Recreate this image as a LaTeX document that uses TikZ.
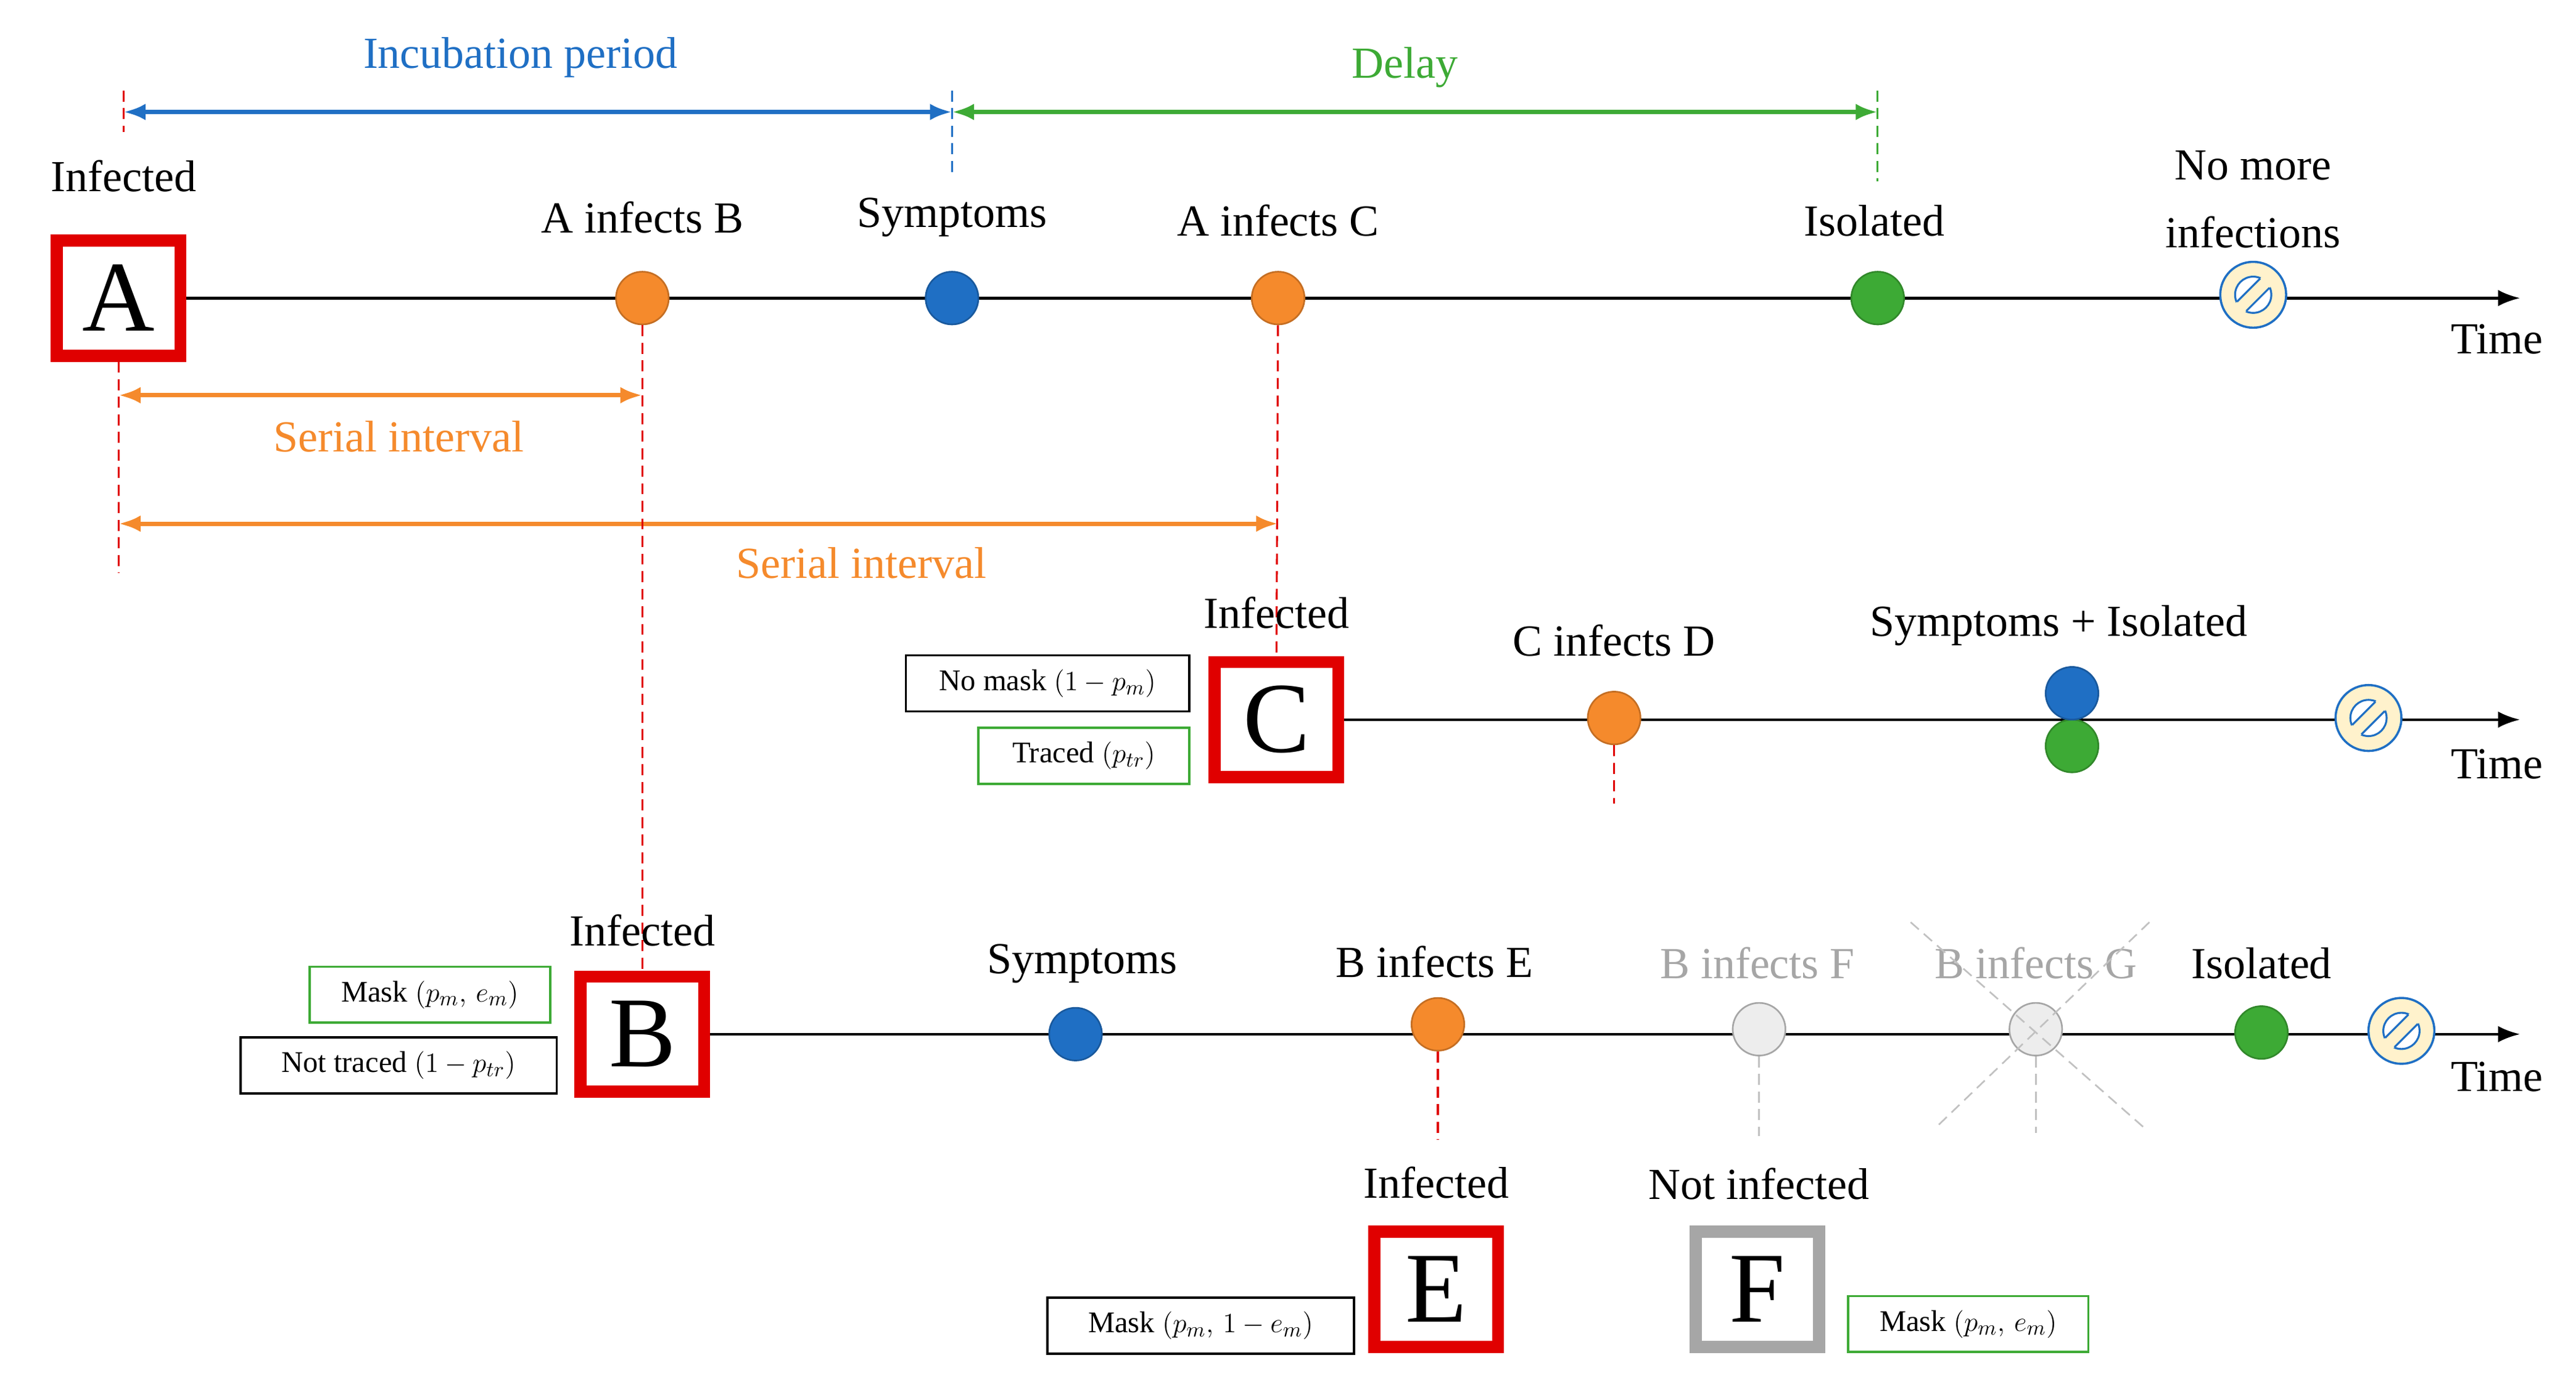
\documentclass[tikz,border=0pt]{standalone}
\usepackage{fontspec}
\setmainfont{Liberation Serif}
\usetikzlibrary{arrows.meta}
\definecolor{cor}{HTML}{F58A2C}
\definecolor{cbl}{HTML}{1F6FC4}
\definecolor{cgr}{HTML}{3DAA35}
\definecolor{cred}{HTML}{E00000}
\definecolor{cgy}{HTML}{A6A6A6}
\definecolor{cream}{HTML}{FFF2CC}
\begin{document}
\begin{tikzpicture}[x=0.03cm,y=-0.03cm,
  lab/.style={font=\fontsize{23}{27}\selectfont, align=center},
  big/.style={draw=cred, line width=2.2mm, minimum width=2.25cm, minimum height=2.1cm, inner sep=0pt, font=\fontsize{52}{56}\selectfont},
  sbox/.style={draw, line width=0.4mm, inner sep=0pt, minimum height=1.02cm, font=\fontsize{15.5}{18}\selectfont},
  dot/.style={circle, minimum size=0.96cm, inner sep=0pt, draw=#1!80!black, fill=#1, line width=0.3mm},
  line/.style={line width=0.5mm, -{Latex[length=4mm,width=3mm]}},
  dar/.style={line width=0.8mm, {Latex[length=4mm,width=3mm]}-{Latex[length=4mm,width=3mm]}},
  vd/.style={dashed, line width=0.35mm, dash pattern=on 2mm off 1.2mm}]
\useasboundingbox (0,0) rectangle (1564,845);
\newcommand{\noicon}[2]{%
  \node[circle, minimum size=1.2cm, inner sep=0pt, draw=cbl, fill=cream, line width=0.4mm] (#1) at (#2) {};
  \draw[cbl, fill=white, line width=0.35mm] (#2) circle (11);
  \fill[cream, rotate around={-45:(#2)}] ($(#2)+(-4,-13)$) rectangle ($(#2)+(4,13)$);
  \draw[cbl, line width=0.35mm, rotate around={-45:(#2)}] ($(#2)+(-4,-10)$) -- ($(#2)+(-4,10)$) ($(#2)+(4,-10)$) -- ($(#2)+(4,10)$);}
% ---------- A timeline ----------
\node[big] (A) at (72,181) {A};
\coordinate (endA) at (1530,181);
\draw[line] (A.east) -- (endA);
\node[dot=cor] (ab) at (390,181) {};
\node[dot=cbl] (as) at (578,181) {};
\node[dot=cor] (ac) at (776,181) {};
\node[dot=cgr] (ai) at (1140,181) {};
\usetikzlibrary{calc}
\node[lab] (lInfA) at (75,107) {Infected};
\node[lab] at (390,132) {A infects B};
\node[lab] at (578,132) {Symptoms};
\node[lab] at (776,134) {A infects C};
\node[lab] at (1138,134) {Isolated};
\node[lab, font=\fontsize{23}{35}\selectfont] at (1368,121) {No more\\infections};
\node[lab] at (1516,206) {Time};
% top arrows
\coordinate (t0) at (75,68); \coordinate (t1) at (578,68); \coordinate (t2) at (1140,68);
\draw[dar, cbl] (t0) -- (t1);
\draw[dar, cgr] (t1) -- (t2);
\node[lab, text=cbl] at (316,35) {Incubation period};
\node[lab, text=cgr] at (853,41) {Delay};
\draw[vd, cred] (75,55) -- (75,80);
\draw[vd, cbl] (578,55) -- (578,105);
\draw[vd, cgr] (1140,55) -- (1140,110);
% serial intervals
\coordinate (s0) at (72,240); \coordinate (s1) at (390,240);
\coordinate (s2) at (72,318); \coordinate (s3) at (776,318);
\draw[dar, cor] (s0) -- (s1);
\draw[dar, cor] (s2) -- (s3);
\node[lab, text=cor] at (242,265) {Serial interval};
\node[lab, text=cor] at (523,342) {Serial interval};
\coordinate (aEnd) at (72,348);
\draw[vd, cred] (A.south) -- (aEnd);
% ---------- C timeline ----------
\node[big] (C) at (775,437) {C};
\coordinate (endC) at (1530,437);
\draw[line] (C.east) -- (endC);
\draw[vd, cred] (ac) -- (C.north);
\node[lab] at (775,372) {Infected};
\node[dot=cor] (cd) at (980,436) {};
\node[lab] at (980,389) {C infects D};
\coordinate (cdE) at (980,488);
\draw[vd, cred] (cd) -- (cdE);
\node[dot=cgr] (cg) at (1258,453) {};
\node[dot=cbl] (cb) at (1258,421) {};
\node[lab] at (1250,380) {Symptoms + Isolated};
\node[lab] at (1516,464) {Time};
\node[sbox, minimum width=5.16cm] (nm) at (636,415) {No mask $(1-p_m)$};
\node[sbox, draw=cgr, minimum width=3.84cm] (tr) at (658,459) {Traced $(p_{tr})$};
% ---------- B timeline ----------
\node[big] (B) at (390,628) {B};
\coordinate (endB) at (1530,628);
\draw[line] (B.east) -- (endB);
\draw[vd, cred] (ab) -- (B.north);
\node[lab] at (390,565) {Infected};
\node[dot=cbl] (bs) at (653,628) {};
\node[lab] at (657,585) {Symptoms};
\node[dot=cor] (be) at (873,622) {};
\node[lab] at (871,584) {B infects E};
\node[dot=white!93!black, draw=cgy] (bf) at (1068,625) {};
\node[lab, text=cgy] at (1067,585) {B infects F};
\node[dot=white!93!black, draw=cgy] (bg) at (1236,625) {};
\node[lab, text=cgy] at (1236,585) {B infects G};
\draw[vd, cgy!70, line width=0.3mm] (1160,560) -- (1302,685) (1305,560) -- (1175,685);
\coordinate (bgE) at (1236,688);
\draw[vd, cgy!70] (bg) -- (bgE);
\node[dot=cgr] (bi) at (1373,627) {};
\node[lab] at (1373,585) {Isolated};
\node[lab] at (1516,654) {Time};
\node[sbox, draw=cgr, minimum width=4.38cm] (mk) at (261,604) {Mask $(p_m,\,e_m)$};
\node[sbox, minimum width=5.76cm] (nt) at (242,647) {Not traced $(1-p_{tr})$};
% E and F
\node[big] (E) at (872,783) {E};
\node[lab] at (872,718) {Infected};
\coordinate (beE) at (873,692);
\draw[vd, cred] (be) -- (beE);
\node[big, draw=cgy] (F) at (1067,783) {F};
\node[lab] at (1068,719) {Not infected};
\coordinate (bfE) at (1068,690);
\draw[vd, cgy!70] (bf) -- (bfE);
\node[sbox, minimum width=5.58cm] (me) at (729,805) {Mask $(p_m,\,1-e_m)$};
\node[sbox, draw=cgr, minimum width=4.38cm] (mf) at (1195,804) {Mask $(p_m,\,e_m)$};
% icons
\noicon{n1}{1368,179}
\noicon{n2}{1438,436}
\noicon{n3}{1458,626}
\end{tikzpicture}
\end{document}
